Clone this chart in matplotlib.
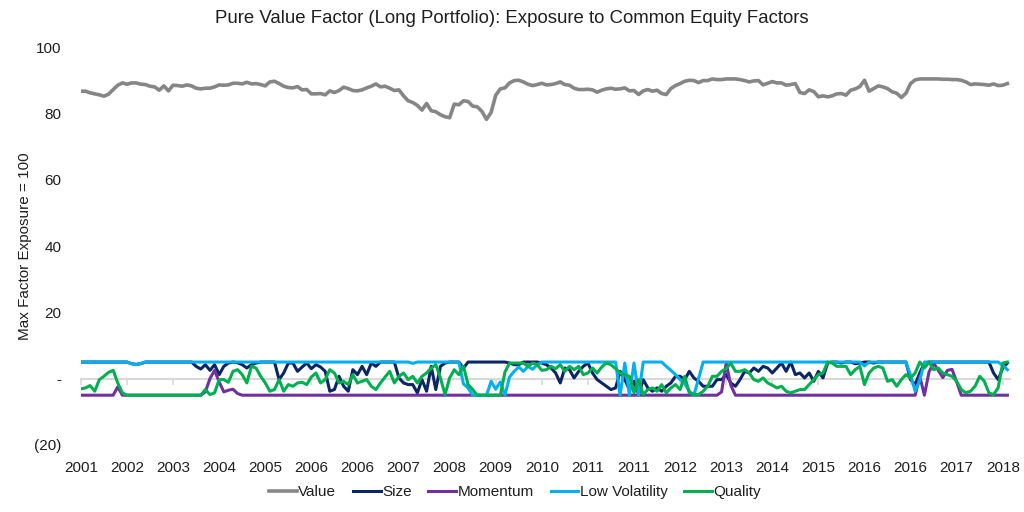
import numpy as np
import matplotlib
matplotlib.use('Agg')
import matplotlib.pyplot as plt

plt.rcParams['font.family'] = ['Liberation Sans', 'DejaVu Sans']

# Monthly factor exposures (max factor exposure = 100)
value = [86.7, 86.7, 86.2, 85.9, 85.6, 85.2, 85.8, 87.2, 88.5, 89.2,
         88.8, 89.2, 89.2, 88.8, 88.7, 88.2, 88.0, 87.0, 88.3, 86.8,
         88.5, 88.4, 88.2, 88.6, 88.3, 87.6, 87.4, 87.6, 87.6, 88.0,
         88.6, 88.5, 88.6, 89.1, 89.1, 88.9, 89.4, 88.9, 89.0, 88.7,
         88.3, 89.5, 89.7, 89.0, 88.2, 87.8, 87.7, 88.1, 87.1, 87.2,
         85.9, 85.9, 86.0, 85.6, 86.8, 86.3, 86.9, 87.9, 87.5, 86.9,
         86.8, 87.1, 87.7, 88.2, 88.9, 88.0, 88.2, 87.6, 86.9, 87.1,
         85.3, 83.8, 83.3, 82.4, 81.0, 83.0, 80.8, 80.5, 79.6, 79.0,
         78.7, 82.8, 82.6, 83.8, 83.6, 82.2, 82.0, 80.6, 78.2, 80.3,
         85.5, 87.4, 87.7, 89.2, 89.9, 90.0, 89.5, 88.8, 88.4, 88.7,
         89.1, 88.6, 88.7, 89.0, 89.5, 88.7, 88.5, 87.6, 87.2, 87.2,
         87.3, 87.1, 86.4, 87.0, 87.4, 87.6, 87.3, 87.4, 87.7, 86.8,
         86.9, 85.7, 86.8, 87.2, 86.7, 87.0, 86.0, 85.7, 87.5, 88.4,
         89.0, 89.7, 90.0, 89.9, 89.3, 89.9, 89.9, 90.4, 90.2, 90.2,
         90.4, 90.4, 90.4, 90.2, 89.9, 89.5, 89.8, 89.9, 88.6, 89.1,
         89.6, 89.2, 89.2, 88.5, 88.7, 89.0, 86.3, 86.0, 87.1, 86.6,
         85.0, 85.3, 85.0, 85.3, 85.9, 86.0, 85.5, 87.0, 87.4, 88.1,
         90.0, 86.7, 87.5, 88.3, 88.0, 87.5, 86.5, 86.1, 84.8, 86.1,
         89.0, 90.1, 90.4, 90.4, 90.4, 90.4, 90.4, 90.3, 90.3, 90.2,
         90.2, 90.0, 89.5, 88.7, 88.9, 88.8, 88.7, 88.5, 88.9, 88.4,
         88.5, 89.0]

size = [5, 5, 5, 5, 5, 5, 5, 5, 5, 5,
        5, 4.5, 4.3, 4.5, 5, 5, 5, 5, 5, 5,
        5, 5, 5, 5, 5, 3.7, 2.9, 4.2, 2.5, 4.2,
        1.2, 3.7, 4.7, 5, 4.8, 4.2, 3.2, 4.2, 4.7, 5,
        5, 5, 5, -0.3, 1.7, 4.7, 4.7, 2.2, 3.5, 4.7,
        3.0, 4.2, 3.5, 2.2, -3.8, -3.3, 0.7, -2.3, -3.8, 2.7,
        1.2, 3.7, 1.2, 4.7, 3.7, 5, 5, 5, 5, 0.2,
        -1.3, -1.8, -1.8, -4.3, -0.3, -3.8, 3.7, -3.3, 3.7, 4.7,
        5, 5, 5, 3.2, 5, 5, 5, 5, 5, 5,
        5, 5, 5, 4.7, 4.2, 4.2, 5, 5, 5, 5,
        4.7, 4.2, 3.2, 1.7, -1.3, 3.2, 2.7, 0.2, 2.2, 3.7,
        4.7, 1.7, -0.3, -1.3, -2.3, -3.3, -2.8, 2.2, -0.3, -3.3,
        -0.8, -4.8, -0.3, -2.8, -3.8, -2.8, -3.8, -2.3, -1.3, 0.7,
        0.7, -0.3, 2.2, 0.2, -0.8, -2.3, -2.3, -2.3, -0.3, -0.3,
        1.2, -1.3, -2.3, -0.3, 2.2, 1.7, 3.2, 2.2, 3.7, 3.2,
        1.7, 3.2, 4.7, 2.2, 5, 1.2, 1.7, 0.2, 1.7, -0.8,
        2.2, 0.2, 4.7, 5, 5, 4.7, 5, 5, 4.5, 4.7,
        5, 5, 4.7, 5, 5, 5, 5, 5, 5, 5,
        -0.3, -1.8, 1.7, 4.7, 5, 5, 5, 5, 5, 5,
        5, 5, 5, 5, 5, 5, 5, 5, 1.7, -0.3,
        3.2, 4.7]

momentum = ([-5, -5, -5, -5, -5, -5, -5, -5, -2.5, -5]
            + [-5] * 10
            + [-5, -5, -5, -5, -5, -5, -5, -4, 0, 2.5]
            + [-1, -4, -3.5, -3.2, -4.5, -5, -5, -5, -5, -5]
            + [-5] * 90
            + [-5, -5, -5, -5, -5, -5, -5, -5, -5, -4]
            + [4.7, -2, -5, -5, -5, -5, -5, -5, -5, -5]
            + [-5] * 30
            + [-5, -5, 0.7, -5, 2, 4.7, 2.5, 0.3, 2.5, 2.8]
            + [-1, -5, -5, -5, -5, -5, -5, -5, -5, -5]
            + [-5, -5])

low_vol = ([5] * 10
           + [5, 4.5, 4.2, 4.6, 5, 5, 5, 5, 5, 5]
           + [5] * 50
           + [5, 5, 4.6, 5, 5, 5, 5, 5, 5, 5]
           + [5, 5, 5, -1.6, -2.8, -5, -5, -5, -5, -0.8]
           + [-3.2, -1.0, -5, 0.5, 2.2, 3.5, 2.2, 3.7, 2.8, 4.2]
           + [5] * 10
           + [5, 5, 5, 5, 5, 5, 5, -5, 4.7, -5]
           + [4.7, -5, 5, 5, 5, 5, 5, 3.7, 2.5, 1.2]
           + [-0.3, -1.5, -3.8, -5, 0, 5, 5, 5, 5, 5]
           + [5] * 30
           + [3.8, 5, 5, 5, 5, 5, 5, 5, 5, 5]
           + [1, -3.8, -0.5, 5, 5, 5, 5, 5, 5, 5]
           + [5] * 10
           + [4, 2.7])

quality = [-3.1, -2.8, -2.1, -3.8, -0.3, 0.7, 1.9, 2.5, -1.3, -4.3,
           -5, -5, -5, -5, -5, -5, -5, -5, -5, -5,
           -5, -5, -5, -5, -5, -5, -5, -3.3, -4.8, -4.3,
           -0.3, -0.3, -1.1, 2.2, 2.7, 1.2, -1.3, 3.7, 3.2, 0.7,
           -1.3, -3.8, -3.3, -0.3, -3.8, -1.8, -2.3, -1.3, -1.1, -1.8,
           0.5, 1.7, -1.3, -0.3, 2.7, 1.7, -1.3, -0.8, -1.8, 1.2,
           -1.3, -0.8, -0.3, -2.3, -3.3, -1.3, 0.5, 2.2, -1.3, 0.7,
           1.7, -0.3, 0.7, -1.3, 0.7, 1.7, 3.2, 4.2, 0.2, -4.8,
           0.2, 2.7, 1.2, 3.7, -1.8, -3.3, -5, -5, -5, -5,
           -5, -5, 2.0, 4.7, 4.7, 4.7, 4.7, 3.7, 4.7, 4.2,
           2.5, 2.7, 3.7, 3.0, 4.2, 2.2, 3.7, 2.7, 3.7, 1.2,
           1.7, 3.2, 1.7, 3.5, 4.7, 4.2, 3.0, 1.7, 1.2, 0.7,
           -4.3, -0.3, -4.8, -3.3, -2.8, -3.8, -1.8, -4.3, -2.8, -1.8,
           -3.3, 0.7, -4.3, -4.8, -4.8, -3.8, -2.3, 0.7, 0.7, 2.2,
           3.0, 4.7, 2.2, 2.2, 2.7, 1.7, -0.3, -0.8, 0.2, -1.3,
           -2.0, -2.8, -2.3, -3.8, -4.3, -3.8, -3.3, -3.3, -1.8, -0.3,
           1.2, 1.7, 5, 4.7, 3.7, 3.7, 3.7, 1.2, 2.7, 3.7,
           -1.8, 1.7, 3.2, 3.7, 3.2, -0.8, -0.3, -2.3, -0.3, 1.2,
           0.2, 1.7, 5, 3.2, 5, 2.7, 3.2, 1.7, 1.2, 0.7,
           -0.8, -3.3, -4.3, -3.8, -2.3, 0.7, -0.8, -4.3, -4.8, -2.8,
           4.7, 5]

# category axis labels, one every 10 months
x_labels = ['2001', '2002', '2003', '2004', '2005', '2006', '2006', '2007',
            '2008', '2009', '2010', '2011', '2011', '2012', '2013', '2014',
            '2015', '2016', '2016', '2017', '2018']
y_ticks = [-20, 0, 20, 40, 60, 80, 100]
y_labels = ['(20)', '-', '20', '40', '60', '80', '100']

TEXT = '#1f1f1f'
series = [
    ('Value', value, '#868686', 2.6),
    ('Size', size, '#0c2566', 2.2),
    ('Momentum', momentum, '#7030a0', 2.2),
    ('Low Volatility', low_vol, '#00b0f0', 2.2),
    ('Quality', quality, '#00b050', 2.2),
]

fig = plt.figure(figsize=(10.24, 5.12), dpi=100)
ax = fig.add_axes([0.079, 0.131, 0.907, 0.777])

for name, vals, col, lw in series:
    ax.plot(np.arange(len(vals)), vals, color=col, linewidth=lw, label=name,
            solid_joinstyle='round')

ax.set_xlim(0, len(value) - 0.5)
ax.set_ylim(-20, 100)

ax.set_xticks(np.arange(0, 10 * len(x_labels), 10))
ax.set_xticklabels(x_labels)
ax.set_yticks(y_ticks)
ax.set_yticklabels(y_labels)

for s in ['top', 'right', 'left']:
    ax.spines[s].set_visible(False)
ax.spines['bottom'].set_position(('data', 0))
ax.spines['bottom'].set_color('#d9d9d9')
ax.spines['bottom'].set_linewidth(1.5)
ax.spines['bottom'].set_zorder(1)

ax.tick_params(axis='x', direction='out', length=4, width=1.2, color='#d9d9d9',
               pad=55, labelsize=11, labelcolor=TEXT)
ax.tick_params(axis='y', length=0, pad=14, labelsize=11, labelcolor=TEXT)

fig.text(0.5, 0.963, 'Pure Value Factor (Long Portfolio): Exposure to Common Equity Factors',
         ha='center', va='center', fontsize=13.4, color=TEXT)
fig.text(0.0245, 0.52, 'Max Factor Exposure = 100', rotation=90,
         ha='center', va='center', fontsize=11, color=TEXT)

fig.legend(loc='center', bbox_to_anchor=(0.503, 0.039), ncol=5, frameon=False,
           fontsize=11, handlelength=1.8, handletextpad=0.1, columnspacing=1.1,
           labelcolor=TEXT)

plt.savefig('out.png', dpi=100)
